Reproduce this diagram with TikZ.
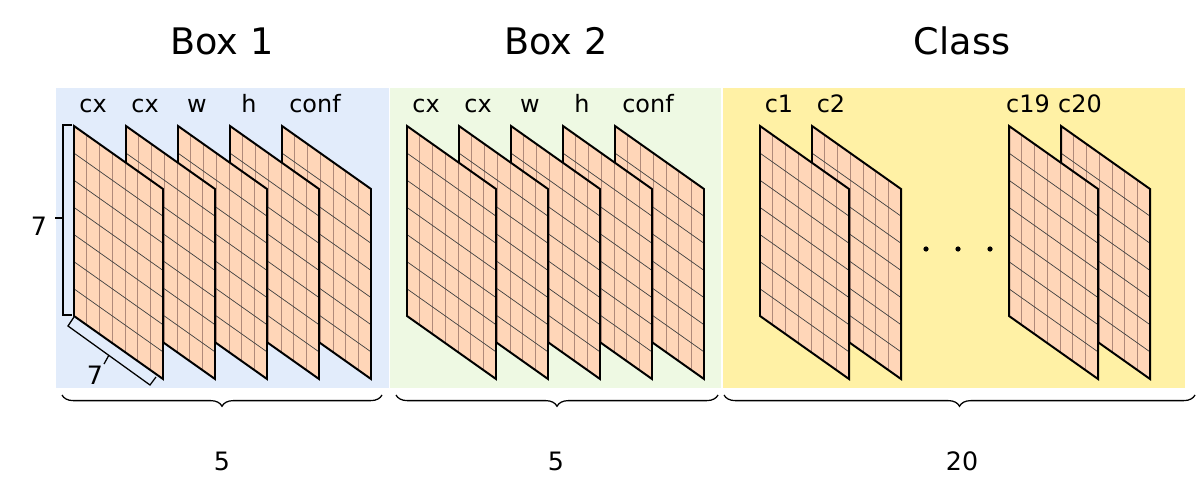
\documentclass[tikz,border=0pt]{standalone}
\usepackage{fontspec}
\setmainfont{DejaVu Sans}
\usetikzlibrary{decorations.pathreplacing}
\definecolor{bblue}{HTML}{E2ECFB}
\definecolor{bgreen}{HTML}{EEF9E3}
\definecolor{byel}{HTML}{FFF1A5}
\definecolor{pfill}{HTML}{FFD6B8}
\definecolor{pgrid}{HTML}{B08A7A}
\tikzset{
 lab/.style={font=\fontsize{17}{20}\selectfont, anchor=base},
 ttl/.style={font=\fontsize{26}{30}\selectfont, anchor=base},
 num/.style={font=\fontsize{18}{20}\selectfont, anchor=base},
 brace/.style={decorate, decoration={brace, amplitude=8pt, mirror}, line width=0.9pt},
 pics/plane/.style={code={
   \fill[pfill] (0,0) -- (89,63) -- (89,253) -- (0,190) -- cycle;
   \foreach \i in {1,...,6} \draw[pgrid, line width=0.5pt] ({89*\i/7},{63*\i/7}) -- ++(0,190);
   \foreach \j in {1,...,6} \draw[black!75, line width=0.5pt] (0,{190*\j/7}) -- ++(89,63);
   \draw[line width=1.4pt] (0,0) -- (89,63) -- (89,253) -- (0,190) -- cycle;
 }}
}
\begin{document}
\begin{tikzpicture}[x=0.025cm,y=-0.025cm]
\useasboundingbox (0,0) rectangle (1200,498);
\fill[bblue] (56,88) rectangle (389,388);
\fill[bgreen] (390,88) rectangle (721,388);
\fill[byel] (723,88) rectangle (1185,388);
\node[ttl] (t1) at (222,55) {Box 1};
\node[ttl] (t2) at (556,55) {Box 2};
\node[ttl] (t3) at (962,55) {Class};
\foreach \x/\t/\o [count=\k] in {282/conf/33,230/h/19,178/w/19,126/cx/19,74/cx/19}{
  \pic at (\x,126) {plane};
  \node[lab] (a\k) at (\x+\o,113) {\t};
}
\foreach \x/\t/\o [count=\k] in {615/conf/33,563/h/19,511/w/19,459/cx/19,407/cx/19}{
  \pic at (\x,126) {plane};
  \node[lab] (b\k) at (\x+\o,113) {\t};
}
\foreach \x/\t [count=\k] in {1061/c20,1009/c19,812/c2,760/c1}{
  \pic at (\x,126) {plane};
  \node[lab] (c\k) at (\x+19,113) {\t};
}
\foreach \x in {926,958,990} \fill (\x,249) circle (2.6);
% 7 brackets
\draw[line width=0.9pt] (72,125) -- (63,125) -- (63,315) -- (72,315);
\draw[line width=0.9pt] (63,218) -- (55,218);
\node[num, anchor=east] (s1) at (52,226) {7};
\draw[line width=0.9pt] (74,317) -- (68,326) -- (150,385) -- (156,377);
\draw[line width=0.9pt] (109,355) -- (104,364);
\node[num] (s2) at (95,384) {7};
% bottom braces
\draw[brace] (62,395) -- (382,395);
\draw[brace] (396,395) -- (718,395);
\draw[brace] (724,395) -- (1195,395);
\node[num] (n1) at (222,470) {5};
\node[num] (n2) at (556,470) {5};
\node[num] (n3) at (962,470) {20};
\end{tikzpicture}
\end{document}
